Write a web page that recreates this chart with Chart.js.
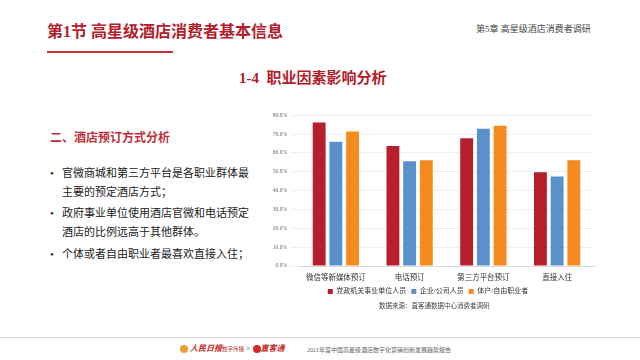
<!DOCTYPE html>
<html>
<head>
<meta charset="utf-8">
<script src="https://cdn.jsdelivr.net/npm/chart.js@4/dist/chart.umd.min.js"></script>
<style>
html,body{margin:0;padding:0;background:#fff;}
body{width:640px;height:360px;position:relative;overflow:hidden;font-family:"Liberation Serif","Noto Sans CJK SC",serif;}
.abs{position:absolute;white-space:nowrap;}
#title{left:47px;top:18px;font-size:16px;font-weight:bold;color:#b3202c;}
#uline{left:47px;top:51px;width:126px;height:2px;background:#c8303c;}
#chap{left:476px;top:22px;font-size:9px;color:#444;}
#sub{left:239px;top:66px;font-size:15px;font-weight:bold;color:#b3202c;}
#sec{left:50px;top:128px;font-size:12px;font-weight:700;color:#c0303a;font-family:"Liberation Serif","Noto Sans CJK SC";}
.bl{left:50px;font-size:11px;color:#222;}
.bl span{display:inline-block;width:12px;}
#src{left:379px;top:300px;font-size:6.5px;color:#444;}
#fline{left:0;top:337px;width:640px;height:1px;background:#dccbcf;}
#foot{left:307px;top:345px;font-size:6px;color:#666;}
#logo{left:180px;top:342px;font-size:8px;color:#c32a2a;}
#chartbox{position:absolute;left:262px;top:108px;width:340px;height:197px;}
</style>
</head>
<body>
<div id="title" class="abs">第1节 高星级酒店消费者基本信息</div>
<div id="uline" class="abs"></div>
<div id="chap" class="abs">第5章 高星级酒店消费者调研</div>
<div id="sub" class="abs">1-4&nbsp; 职业因素影响分析</div>
<div id="sec" class="abs">二、酒店预订方式分析</div>
<div class="abs bl" style="top:164px"><span>•</span>官微商城和第三方平台是各职业群体最</div>
<div class="abs bl" style="top:183px"><span></span>主要的预定酒店方式；</div>
<div class="abs bl" style="top:204px"><span>•</span>政府事业单位使用酒店官微和电话预定</div>
<div class="abs bl" style="top:223px"><span></span>酒店的比例远高于其他群体。</div>
<div class="abs bl" style="top:245px"><span>•</span>个体或者自由职业者最喜欢直接入住；</div>
<div id="chartbox"><canvas id="c"></canvas></div>
<div id="src" class="abs">数据来源：直客通数据中心消费者调研</div>
<div id="fline" class="abs"></div>
<div id="logo" class="abs"><span style="display:inline-block;width:8px;height:8px;border-radius:50%;background:#e8a030;vertical-align:middle;"></span> <i style="font-weight:bold">人民日报</i><span style="font-size:5.5px;color:#b33">数字传播</span> <span style="color:#888">×</span> <span style="display:inline-block;width:8px;height:8px;border-radius:50%;background:#d02a2a;vertical-align:middle;"></span><b style="color:#c0282a;font-style:italic">直客通</b></div>
<div id="foot" class="abs">2021年度中国高星级酒店数字化营销创新发展趋势报告</div>
<script>
const categories = ["微信等新媒体预订","电话预订","第三方平台预订","直接入住"];
const seriesNames = ["党政机关事业单位人员","企业/公司人员","体户/自由职业者"];
const govValues = [76.2, 63.7, 67.8, 49.8];
const corpValues = [66.0, 55.6, 72.8, 47.5];
const freeValues = [71.4, 56.1, 74.4, 56.1];
const yTicks = [0,10,20,30,40,50,60,70,80];
const colors = ["#b71f2c","#5a91cc","#f58a1f"];

new Chart(document.getElementById('c'), {
  type: 'bar',
  data: {
    labels: categories,
    datasets: [
      {label: seriesNames[0], data: govValues, backgroundColor: colors[0]},
      {label: seriesNames[1], data: corpValues, backgroundColor: colors[1]},
      {label: seriesNames[2], data: freeValues, backgroundColor: colors[2]}
    ]
  },
  options: {
    responsive: true,
    maintainAspectRatio: false,
    animation: false,
    layout: {padding: {left: 0, right: 8, top: 2, bottom: 0}},
    datasets: {bar: {barPercentage: 0.77, categoryPercentage: 0.68}},
    plugins: {
      legend: {
        position: 'bottom',
        labels: {boxWidth: 5, boxHeight: 5, padding: 5, color: '#333', font: {family: 'Liberation Serif, Noto Sans CJK SC', size: 7}}
      },
      tooltip: {enabled: false}
    },
    scales: {
      x: {
        grid: {display: false},
        border: {color: '#d9d9d9'},
        ticks: {color: '#333', padding: 0, font: {family: 'Liberation Serif, Noto Sans CJK SC', size: 7.5}}
      },
      y: {
        min: 0, max: 80,
        afterBuildTicks: (ax) => { ax.ticks = yTicks.map(v => ({value: v})); },
        afterFit: (ax) => { ax.width = 37; },
        grid: {color: '#efefef'},
        border: {display: false},
        ticks: {color: '#666', padding: 4, font: {family: 'Liberation Serif', size: 5.5}, callback: v => v.toFixed(1) + '%'}
      }
    }
  }
});
</script>
</body>
</html>
